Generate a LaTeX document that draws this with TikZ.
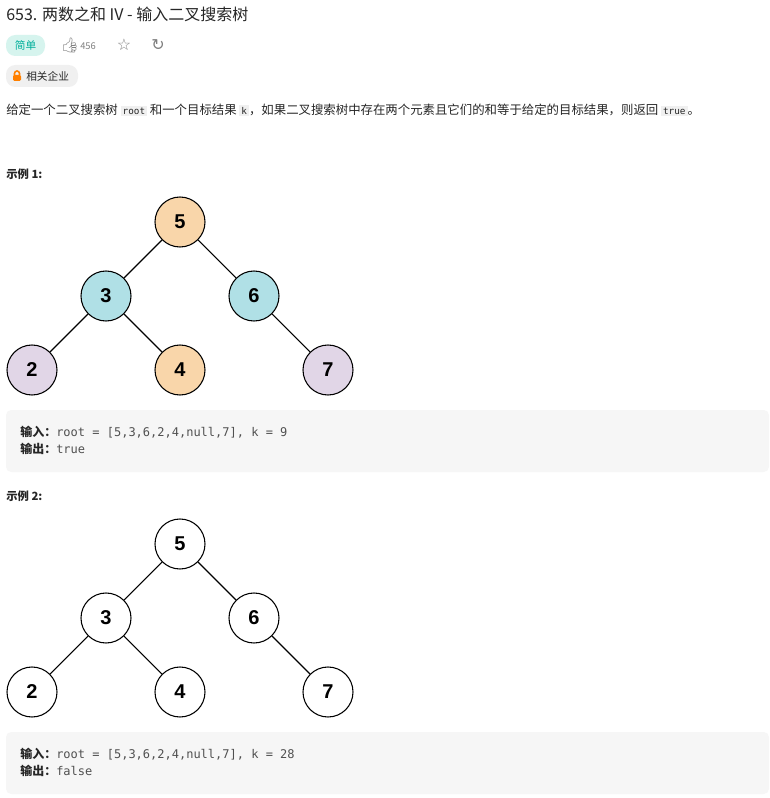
\documentclass[tikz,border=0pt]{standalone}
\usepackage{fontspec}
\setmainfont{Noto Sans CJK SC}
\setmonofont{DejaVu Sans Mono}
\newfontfamily\symfont{DejaVu Sans}
\newfontfamily\emojifont{Noto Emoji}
\newfontfamily\numfont{Liberation Sans}
\usetikzlibrary{positioning}
\definecolor{peach}{RGB}{249,214,170}
\definecolor{aqua}{RGB}{176,224,230}
\definecolor{lilac}{RGB}{225,214,231}
\definecolor{codegray}{RGB}{246,246,246}
\definecolor{inlinegray}{RGB}{240,240,240}
\definecolor{easyteal}{RGB}{0,175,155}
\definecolor{easybg}{RGB}{214,244,238}
\definecolor{tagbg}{RGB}{240,240,240}
\definecolor{darktext}{RGB}{38,38,38}
\definecolor{monotext}{RGB}{80,80,80}
\newcommand\inlinecode[1]{{\setlength\fboxsep{1.5pt}\colorbox{inlinegray}{\ttfamily\fontsize{7}{8}\selectfont #1}}}
\tikzset{
  treenode/.style={circle,draw,line width=0.8pt,minimum size=50*0.75pt,inner sep=0pt,font=\numfont\bfseries\fontsize{15}{18}\selectfont},
  codebox/.style={fill=codegray,rounded corners=4pt},
  codeline/.style={anchor=west,font=\fontsize{9}{11}\selectfont,text=darktext},
  heading/.style={anchor=west,font=\bfseries\fontsize{8.5}{10}\selectfont,text=darktext}
}
\begin{document}
\begin{tikzpicture}[x=0.75pt,y=0.75pt,yscale=-1]
\useasboundingbox (0,0) rectangle (769,798);
\fill[white] (0,0) rectangle (769,798);

% header
\node[anchor=west,inner sep=0pt,font=\fontsize{12}{14}\selectfont,text=darktext] (title) at (6,14) {653. 两数之和 IV - 输入二叉搜索树};
\fill[easybg,rounded corners=7pt] (6,35) rectangle (45,56);
\node[inner sep=0pt,text=easyteal,font=\fontsize{8}{10}\selectfont] (level) at (25.5,45.5) {简单};
\node[inner sep=0pt,text=gray,font=\emojifont\fontsize{11}{12}\selectfont] (thumb) at (70,45) {👍};
\node[anchor=west,inner sep=0pt,text=gray,font=\fontsize{7}{9}\selectfont] (likes) at (80,46) {456};
\node[inner sep=0pt,text=gray,font=\symfont\fontsize{12}{14}\selectfont] (star) at (124,45) {☆};
\node[inner sep=0pt,text=gray,font=\symfont\fontsize{12}{14}\selectfont] (share) at (158,45) {↻};
\fill[tagbg,rounded corners=7pt] (6,65) rectangle (78,87);
\draw[orange,line width=1.2pt] (14.5,76) -- (14.5,73.5) arc (180:360:2.5) -- (19.5,76);
\fill[orange,rounded corners=1pt] (13,75) rectangle (21,81);
\node[anchor=west,inner sep=0pt,text=darktext,font=\fontsize{8}{10}\selectfont] (tag) at (26,76) {相关企业};
\node[anchor=west,inner sep=0pt,text=darktext,font=\fontsize{9.3}{11}\selectfont] (desc) at (6,110)
  {给定一个二叉搜索树 \inlinecode{root} 和一个目标结果 \inlinecode{k}，如果二叉搜索树中存在两个元素且它们的和等于给定的目标结果，则返回 \inlinecode{true}。};

% example 1
\node[heading,inner sep=0pt] (ex1) at (6,174) {示例 1:};
\node[treenode,fill=peach] (a5) at (180,222) {5};
\node[treenode,fill=aqua] (a3) at (106,296) {3};
\node[treenode,fill=aqua] (a6) at (254,296) {6};
\node[treenode,fill=lilac] (a2) at (32,370) {2};
\node[treenode,fill=peach] (a4) at (180,370) {4};
\node[treenode,fill=lilac] (a7) at (328,370) {7};
\draw[line width=0.8pt] (a5) -- (a3) (a5) -- (a6) (a3) -- (a2) (a3) -- (a4) (a6) -- (a7);
\fill[codebox] (6,410) rectangle (769,472);
\node[codeline,inner sep=0pt] (in1) at (20,432) {\textbf{输入：}\color{monotext}\ttfamily root = [5,3,6,2,4,null,7], k = 9};
\node[codeline,inner sep=0pt] (out1) at (20,449) {\textbf{输出：}\color{monotext}\ttfamily true};

% example 2
\node[heading,inner sep=0pt] (ex2) at (6,496) {示例 2:};
\node[treenode,fill=white] (b5) at (180,544) {5};
\node[treenode,fill=white] (b3) at (106,618) {3};
\node[treenode,fill=white] (b6) at (254,618) {6};
\node[treenode,fill=white] (b2) at (32,692) {2};
\node[treenode,fill=white] (b4) at (180,692) {4};
\node[treenode,fill=white] (b7) at (328,692) {7};
\draw[line width=0.8pt] (b5) -- (b3) (b5) -- (b6) (b3) -- (b2) (b3) -- (b4) (b6) -- (b7);
\fill[codebox] (6,732) rectangle (769,794);
\node[codeline,inner sep=0pt] (in2) at (20,754) {\textbf{输入：}\color{monotext}\ttfamily root = [5,3,6,2,4,null,7], k = 28};
\node[codeline,inner sep=0pt] (out2) at (20,771) {\textbf{输出：}\color{monotext}\ttfamily false};
\end{tikzpicture}
\end{document}
